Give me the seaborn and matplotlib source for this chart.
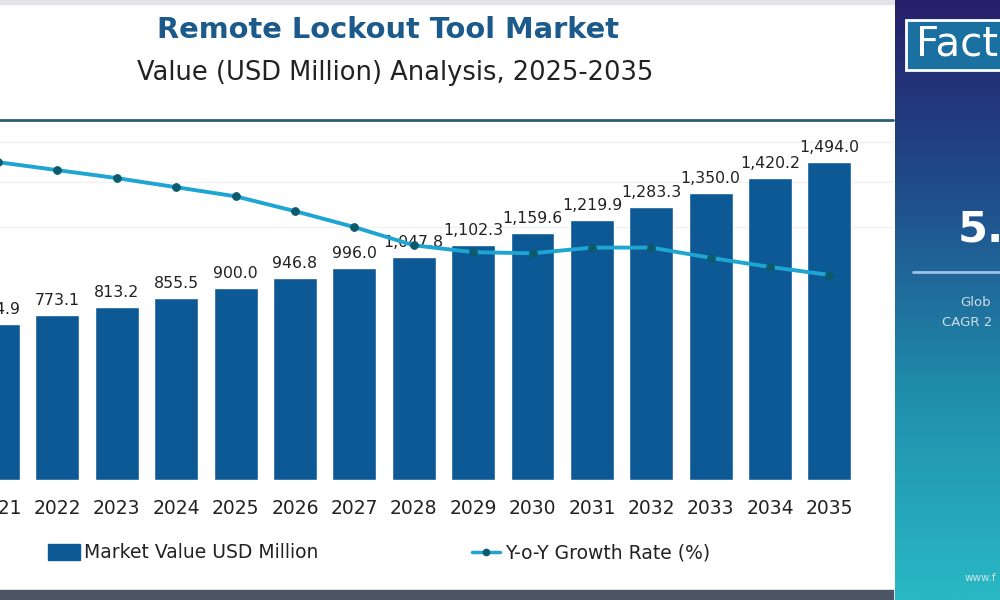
import matplotlib
matplotlib.use("Agg")
import matplotlib.pyplot as plt
from matplotlib.patches import Rectangle, Patch
from matplotlib.lines import Line2D
from matplotlib.colors import LinearSegmentedColormap
import seaborn as sns
import numpy as np
import pandas as pd

years = ["2021", "2022", "2023", "2024", "2025", "2026", "2027", "2028",
         "2029", "2030", "2031", "2032", "2033", "2034", "2035"]
market_value = [734.9, 773.1, 813.2, 855.5, 900.0, 946.8, 996.0, 1047.8,
                1102.3, 1159.6, 1219.9, 1283.3, 1350.0, 1420.2, 1494.0]
yoy_growth = [5.58, 5.51, 5.44, 5.36, 5.28, 5.15, 5.01, 4.85,
              4.79, 4.78, 4.83, 4.83, 4.74, 4.66, 4.59]
bar_label = "Market Value USD Million"
line_label = "Y-o-Y Growth Rate (%)"
title = "Remote Lockout Tool Market"
subtitle = "Value (USD Million) Analysis, 2025-2035"

df = pd.DataFrame({"year": years, "value": market_value, "growth": yoy_growth})

sns.set_theme(style="white")
plt.rcParams["font.family"] = ["DejaVu Sans"]

BAR = "#0d5996"
LINE = "#1ea5d2"
MARK = "#0b5a6e"

fig = plt.figure(figsize=(10, 6), dpi=100)
fig.patch.set_facecolor("white")

# main axes: baseline at 480 px, top at 120 px
ax = fig.add_axes([-0.0026, 0.2, 0.8956, 0.6])
sns.barplot(data=df, x="year", y="value", color=BAR, width=0.74,
            saturation=1, ax=ax, zorder=2)
ax.set_xlim(-0.01, 15.07)
ax.set_ylim(0, 1691)
ax.set_xlabel("")
ax.set_ylabel("")
ax.set_yticks([])
ax.tick_params(axis="x", length=0, labelsize=13.5, pad=14, colors="#222222")
for s in ax.spines.values():
    s.set_visible(False)
for gy in [1590, 1400, 1190]:
    ax.axhline(gy, color="#f0f0f0", lw=1, zorder=0)

for i, v in enumerate(market_value):
    ax.annotate(f"{v:,.1f}", (i, v), xytext=(0, 5), textcoords="offset points",
                ha="center", va="bottom", fontsize=11.3, color="#222222",
                zorder=5, annotation_clip=False)

ax2 = ax.twinx()
sns.lineplot(data=df, x="year", y="growth", ax=ax2, color=LINE, lw=2.8,
             marker="o", markersize=5.5, markerfacecolor=MARK,
             markeredgecolor=MARK, zorder=4, sort=False)
ax2.set_ylim(2.79, 5.95)
ax2.set_xlim(ax.get_xlim())
ax2.set_yticks([])
ax2.set_ylabel("")
ax2.set_xlabel("")
for s in ax2.spines.values():
    s.set_visible(False)

# separator line under titles
fig.add_artist(Line2D([0, 0.893], [1 - 120 / 600] * 2, color="#2c5f70", lw=2))

fig.text(0.388, 1 - 30 / 600, title, ha="center", va="center",
         fontsize=20.8, fontweight="bold", color="#1b5a8a")
fig.text(0.395, 1 - 73 / 600, subtitle, ha="center", va="center",
         fontsize=18.5, color="#222222")

# legend
h1 = Patch(facecolor=BAR, edgecolor=BAR)
fig.legend(handles=[h1], labels=[bar_label], loc="center left",
           bbox_to_anchor=(0.031, 1 - 553 / 600), frameon=False,
           handlelength=1.7, handleheight=1.0, handletextpad=0.2,
           fontsize=13.5, labelcolor="#222222")
h2 = Line2D([0], [0], color=LINE, lw=2.5, marker="o", markersize=4.5,
            markerfacecolor=MARK, markeredgecolor=MARK)
fig.legend(handles=[h2], labels=[line_label], loc="center left",
           bbox_to_anchor=(0.455, 1 - 553 / 600), frameon=False,
           handlelength=1.5, handletextpad=0.25,
           fontsize=13.5, labelcolor="#222222")

# top and bottom strips
fig.add_artist(Rectangle((0, 1 - 4 / 600), 1, 4 / 600, transform=fig.transFigure,
                         color="#e4e4e8", zorder=0))
fig.add_artist(Rectangle((0, 0), 0.893, 10 / 600, transform=fig.transFigure,
                         color="#4d5463", zorder=3))

# right panel with gradient
pax = fig.add_axes([0.895, 0, 0.105, 1])
grad = np.linspace(0, 1, 256).reshape(-1, 1)
cmap = LinearSegmentedColormap.from_list("p", ["#26206a", "#1f4f8c", "#2090ad", "#2ab8c4"])
pax.imshow(grad, aspect="auto", cmap=cmap, extent=[0, 1, 0, 1], origin="upper")
pax.set_xlim(0, 1)
pax.set_ylim(0, 1)
pax.axis("off")
pax.add_patch(Rectangle((0.1, 1 - 70 / 600), 1.0, 50 / 600, facecolor="#1a70a0",
                        edgecolor="white", lw=2))
pax.text(0.2, 1 - 45 / 600, "Fact", color="white", fontsize=29, va="center", ha="left")
pax.text(0.6, 1 - 230 / 600, "5.", color="white", fontsize=31, fontweight="bold",
         va="center", ha="left")
pax.plot([0.17, 1.0], [1 - 272 / 600] * 2, color="#9cc2e8", lw=2)
pax.text(0.62, 1 - 302 / 600, "Glob", color="#cfdcea", fontsize=9.5, va="center", ha="left")
pax.text(0.45, 1 - 322 / 600, "CAGR 2", color="#cfdcea", fontsize=9.5, va="center", ha="left")
pax.text(0.66, 1 - 578 / 600, "www.f", color="#cfe8ee", fontsize=7.5, va="center", ha="left")

fig.savefig("out.png", dpi=100)
